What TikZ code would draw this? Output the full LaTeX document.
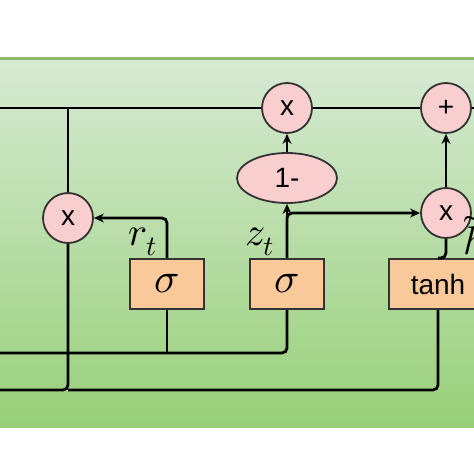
\documentclass[tikz,border=0pt]{standalone}
\usepackage{fontspec}
\usepackage{unicode-math}
\setmathfont{Latin Modern Math}
\setsansfont{Liberation Sans}
\usetikzlibrary{arrows.meta,shapes.geometric,calc}
\definecolor{gtop}{HTML}{D7EAD4}
\definecolor{gbot}{HTML}{98D079}
\definecolor{gborder}{HTML}{88BB6A}
\definecolor{pinkf}{HTML}{F9CECF}
\definecolor{orangef}{HTML}{FAC99A}
\definecolor{edge}{HTML}{333333}
\tikzset{
  op/.style={circle, draw=edge, line width=1.8pt, fill=pinkf, minimum size=50pt, inner sep=0pt,
    font=\sffamily\fontsize{28}{30}\selectfont},
  gate/.style={rectangle, draw=edge, line width=1.8pt, fill=orangef, minimum height=50pt, inner sep=0pt},
  conn/.style={line width=2.8pt, black, rounded corners=5pt},
  arr/.style={conn, -{Stealth[length=10pt,width=9pt]}},
  lbl/.style={font=\fontsize{40}{42}\selectfont, inner sep=0pt}
}
\begin{document}
\begin{tikzpicture}[x=1pt,y=-1pt]
\useasboundingbox (0,0) rectangle (474,474);
% background panel
\shade[top color=gtop, bottom color=gbot] (-10,58) rectangle (484,427);
\draw[gborder, line width=3pt] (-10,58) -- (484,58);

% nodes
\node[op] (mulr) at (68,218) {x};
\node[op] (mulo) at (287,108) {x};
\node[op] (plus) at (446,108) {+};
\node[op] (mulh) at (446,213) {x};
\node[ellipse, draw=edge, line width=1.8pt, fill=pinkf, minimum width=100pt, minimum height=50pt, inner sep=0pt,
  font=\sffamily\fontsize{28}{30}\selectfont] (onem) at (287,178) {1-};
\node[gate, minimum width=74pt, font=\fontsize{42}{44}\selectfont] (sigr) at (167,284) {$\sigma$};
\node[gate, minimum width=74pt, font=\fontsize{42}{44}\selectfont] (sigz) at (287,284) {$\sigma$};
\node[gate, minimum width=98pt, font=\sffamily\fontsize{28}{30}\selectfont] (tanh) at (438,284) {tanh};

\coordinate (inL) at (-5,108);
\coordinate (outR) at (480,108);
\coordinate (jTop) at (68,108);
\coordinate (xL) at (-5,353);
\coordinate (jMid) at (167,353);
\coordinate (hL) at (-5,390);
\coordinate (jBot) at (68,390);
\coordinate (kink) at (446,258);

% connectors
\draw[conn] (inL) -- (mulo.west);
\draw[conn] (mulo.east) -- (plus.west);
\draw[conn] (plus.east) -- (outR);
\draw[conn] (jTop) -- (mulr.north);
\draw[conn] (hL) -- (jBot) -- (mulr.south);
\draw[conn] (jBot) -| (tanh.south);
\draw[conn] (xL) -| (sigz.south);
\draw[conn] (jMid) -- (sigr.south);
\draw[arr] (sigr.north) |- (mulr.east);
\draw[arr] (sigz.north) -- (onem.south);
\draw[arr] (sigz.north) |- (mulh.west);
\draw[arr] (onem.north) -- (mulo.south);
\draw[arr] (mulh.north) -- (plus.south);
\draw[conn] (mulh.south) -- (kink) -- (tanh.north);

% labels
\node[lbl] (lr) at (143,242) {$r_t$};
\node[lbl] (lz) at (260,242) {$z_t$};
\node[lbl, anchor=west] (lh) at (463,240) {$\tilde{h}_t$};
\end{tikzpicture}
\end{document}
